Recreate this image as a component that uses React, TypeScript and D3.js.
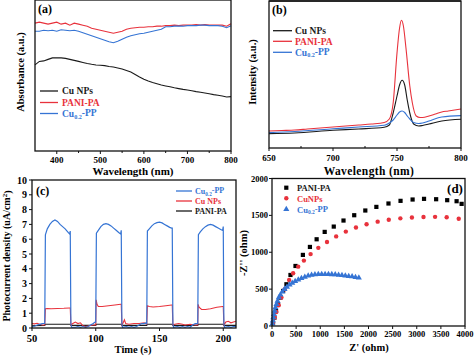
import React from "react";
import * as d3 from "d3";

// ---------- Panel (a) UV-vis absorbance ----------
const wlA = [350,360,370,380,390,400,410,420,430,440,450,460,470,480,490,500,510,520,530,540,550,560,570,580,590,600,610,620,630,640,650,660,670,680,690,700,710,720,730,740,750,760,770,780,790,800];
const absPANI = [1.27,1.28,1.27,1.26,1.27,1.28,1.26,1.27,1.25,1.27,1.26,1.25,1.24,1.22,1.21,1.2,1.19,1.18,1.17,1.18,1.19,1.21,1.22,1.225,1.23,1.23,1.235,1.235,1.24,1.24,1.245,1.245,1.25,1.245,1.25,1.25,1.25,1.255,1.25,1.255,1.25,1.25,1.25,1.25,1.24,1.265];
const absCuPP = [1.19,1.19,1.2,1.195,1.2,1.19,1.205,1.2,1.195,1.2,1.19,1.175,1.16,1.145,1.13,1.115,1.1,1.085,1.075,1.09,1.11,1.13,1.145,1.155,1.165,1.17,1.18,1.19,1.2,1.21,1.235,1.235,1.24,1.24,1.24,1.245,1.245,1.245,1.25,1.25,1.245,1.245,1.245,1.24,1.225,1.245];
const absCuNP = [0.855,0.89,0.895,0.91,0.925,0.927,0.925,0.92,0.91,0.9,0.89,0.88,0.87,0.862,0.855,0.852,0.848,0.84,0.835,0.825,0.815,0.8,0.785,0.76,0.735,0.712,0.695,0.68,0.668,0.655,0.646,0.638,0.628,0.62,0.612,0.606,0.598,0.59,0.583,0.576,0.568,0.56,0.553,0.546,0.537,0.54];
const ticksA = [400,500,600,700,800];

// ---------- Panel (b) PL intensity ----------
const wlPANI = [650,660,670,680,690,700,710,720,730,740,744,747,750,752,753.5,755,757,760,762,765,768,770,775,780,785,790,800];
const plPANI = [17,17.5,18,19,20,21,22,23,24,25.5,29,45,95,120,127.7,122,100,62,45,32,30.5,30.5,32,34,36,37,39];
const wlCu = [650,670,700,720,740,744,747,750,752,754,756,758,760,763,767,770,775,785,800];
const plCuNP = [14.4,15,17.7,19,20.7,23,35,52,63,67.7,63,48,35,24,22,22.5,24,27,28.7];
const plCuPP = [15.4,16.5,19.2,21,22.7,25,28,33,36,37,35.5,32,29,25.5,24.5,25,27,31,32.4];
const ticksB = [650,700,750,800];

// ---------- Panel (c) photocurrent ----------
const pcCuPP: [number, number][] = [[50,0.1],[52,0.12],[54,0.2],[56,0.25],[58,0.3],[59.5,0.32],[60,0.3],[60.5,6.3],[62,6.7],[64,7.0],[66,7.2],[68,7.3],[70,7.2],[72,7.0],[74,6.85],[76,6.7],[78,6.5],[79.5,6.35],[80,6.55],[80.5,0.3],[81,0.05],[84,0.05],[86,0.1],[88,0.05],[90,0.1],[92,0.05],[94,0.1],[96,0.2],[98,0.3],[99.5,0.4],[100,0.4],[100.5,6.4],[102,6.6],[104,6.85],[106,7.0],[108,7.05],[110,7.0],[112,6.9],[114,6.75],[116,6.6],[118,6.45],[119.5,6.35],[120,6.6],[120.5,0.3],[121,0.05],[124,0.1],[126,0.05],[128,0.1],[130,0.05],[132,0.1],[134,0.2],[136,0.3],[138,0.3],[139.5,0.35],[140,0.3],[140.5,6.55],[142,6.7],[144,6.9],[146,7.05],[148,7.12],[150,7.15],[152,7.1],[154,7.0],[156,6.9],[158,6.8],[159.5,6.75],[160,6.75],[160.5,0.3],[161,0.05],[164,0.1],[166,0.05],[168,0.1],[170,0.05],[172,0.1],[174,0.05],[176,0.2],[178,0.3],[179.5,0.3],[180,0.3],[180.5,6.3],[182,6.5],[184,6.7],[186,6.85],[188,6.95],[190,7.0],[192,6.95],[194,6.85],[196,6.75],[198,6.65],[199.5,6.6],[200,6.85],[200.5,0.3],[201,0.05],[204,0.1],[206,0.05],[208,0.1],[210,0.1]];
const pcCuNP: [number, number][] = [[50,0.3],[52,0.28],[54,0.32],[56,0.25],[58,0.2],[60,0.2],[60.5,1.3],[62,1.32],[65,1.3],[70,1.32],[75,1.33],[79.5,1.35],[80,1.35],[80.5,0.2],[82,0.3],[84,0.4],[86,0.3],[88,0.35],[90,0.15],[92,0.1],[95,0.15],[98,0.2],[100,0.2],[100.3,1.9],[101,1.6],[102,1.45],[105,1.45],[110,1.5],[115,1.55],[119.5,1.6],[120,1.6],[120.5,0.2],[121.5,0.35],[122.5,0.55],[123.5,0.3],[126,0.25],[130,0.3],[134,0.3],[138,0.35],[140,0.25],[140.5,1.5],[142,1.45],[145,1.42],[150,1.45],[155,1.5],[159.5,1.55],[160,1.55],[160.5,0.2],[162,0.25],[165,0.3],[168,0.25],[170,0.2],[174,0.25],[178,0.2],[180,0.2],[180.3,1.6],[181,1.4],[183,1.25],[186,1.25],[190,1.3],[195,1.4],[199.5,1.45],[200,1.45],[200.5,0.2],[202,0.4],[204,0.45],[206,0.35],[208,0.4],[210,0.45]];
const pcPANI: [number, number][] = [[50,0.15],[60,0.18],[60.5,0.25],[80,0.25],[80.5,0.18],[100,0.18],[100.5,0.25],[120,0.25],[120.5,0.18],[140,0.18],[140.5,0.25],[160,0.25],[160.5,0.18],[180,0.18],[180.5,0.25],[200,0.25],[200.5,0.18],[210,0.18]];
const ticksCx = [50,100,150,200];
const ticksCy = [0,1,2,3,4,5,6,7,8,9,10];

// ---------- Panel (d) Nyquist ----------
const nyPANI: [number, number][] = [[21,45],[49,113],[83,204],[125,294],[174,385],[230,475],[299,566],[383,692],[487,814],[640,964],[786,1072],[925,1176],[1092,1276],[1280,1348],[1482,1430],[1704,1502],[1934,1566],[2163,1615],[2414,1661],[2664,1697],[2914,1715],[3151,1724],[3402,1719],[3631,1706],[3826,1692],[3930,1656]];
const nyCuNP: [number, number][] = [[20,40],[56,113],[90,190],[139,281],[195,385],[264,498],[355,624],[438,715],[543,805],[661,887],[800,975],[960,1060],[1140,1140],[1330,1215],[1530,1280],[1740,1335],[1960,1380],[2190,1415],[2420,1440],[2660,1460],[2900,1472],[3140,1478],[3380,1480],[3620,1475],[3870,1455]];
const nyCuPP: [number, number][] = [[10,30],[18,70],[28,115],[40,160],[55,205],[72,250],[92,295],[115,340],[142,385],[175,425],[215,465],[260,500],[310,530],[365,558],[420,583],[480,607],[545,628],[610,648],[680,665],[750,680],[820,690],[890,697],[960,701],[1030,703],[1100,703],[1170,702],[1240,700],[1310,697],[1380,693],[1450,688],[1520,682],[1590,676],[1660,670],[1730,662],[1800,655]];
const ticksDx = [0,500,1000,1500,2000,2500,3000,3500,4000];
const ticksDy = [0,500,1000,1500,2000];

const RED = "#e8323c";
const BLUE = "#3574d4";
const BLACK = "#1a1a1a";
const FONT = "'Liberation Serif', 'Times New Roman', serif";

function Frame({ l, r, t, b }: { l: number; r: number; t: number; b: number }) {
  return <rect x={l} y={t} width={r - l} height={b - t} fill="none" stroke="#111" strokeWidth={1.3} />;
}

function Sub({ base, sub, rest }: { base: string; sub: string; rest: string }) {
  return (
    <>
      {base}
      <tspan fontSize="0.65em" dy="0.3em">{sub}</tspan>
      <tspan dy="-0.3em">{rest}</tspan>
    </>
  );
}

export default function App() {
  // Panel a
  const aL = 35, aR = 231, aT = 0, aB = 151;
  const xA = d3.scaleLinear().domain([350, 800]).range([aL, aR]);
  const yA = d3.scaleLinear().domain([0, 1.5]).range([aB, aT]);
  const lineA = (vals: number[]) =>
    d3.line<number>().x((_, i) => xA(wlA[i])).y((v) => yA(v))(vals) || "";

  // Panel b
  const bL = 269, bR = 461, bT = 1, bB = 148;
  const xB = d3.scaleLinear().domain([650, 800]).range([bL, bR]);
  const yB = d3.scaleLinear().domain([0, 147]).range([bB, bT]);
  const lineB = (xs: number[], vals: number[]) =>
    d3.line<number>().x((_, i) => xB(xs[i])).y((v) => yB(v)).curve(d3.curveMonotoneX)(vals) || "";

  // Panel c
  const cL = 32, cR = 236, cT = 180, cB = 328;
  const xC = d3.scaleLinear().domain([50, 210]).range([cL, cR]);
  const yC = d3.scaleLinear().domain([0, 10]).range([cB, cT]);
  const lineC = d3.line<[number, number]>().x((d) => xC(d[0])).y((d) => yC(d[1]));

  // Panel d
  const dL = 272, dR = 465, dT = 178.5, dB = 326;
  const xD = d3.scaleLinear().domain([0, 4000]).range([dL, dR]);
  const yD = d3.scaleLinear().domain([0, 2000]).range([dB, dT]);
  const tri = d3.symbol().type(d3.symbolTriangle).size(16)() || "";

  const bold = { fontFamily: FONT, fontWeight: 700 } as const;

  return (
    <svg width={474} height={356} style={{ position: "absolute", left: 0, top: 0, background: "#fff" }}>
      {/* ---------- (a) ---------- */}
      <g>
        <path d={lineA(absPANI)} fill="none" stroke={RED} strokeWidth={1.1} />
        <path d={lineA(absCuPP)} fill="none" stroke={BLUE} strokeWidth={1.1} />
        <path d={lineA(absCuNP)} fill="none" stroke={BLACK} strokeWidth={1.1} />
        <Frame l={aL} r={aR} t={aT} b={aB} />
        {ticksA.map((t) => (
          <g key={t}>
            <line x1={xA(t)} x2={xA(t)} y1={aB} y2={aB + 3} stroke="#111" />
            <text x={xA(t)} y={163} textAnchor="middle" fontSize={9} {...bold}>{t}</text>
          </g>
        ))}
        {[450, 550, 650, 750].map((t) => (
          <line key={t} x1={xA(t)} x2={xA(t)} y1={aB} y2={aB + 2} stroke="#111" />
        ))}
        <text x={133} y={175} textAnchor="middle" fontSize={11} {...bold}>Wavelength (nm)</text>
        <text transform="translate(24,72) rotate(-90)" textAnchor="middle" fontSize={10.5} {...bold}>Absorbance (a.u.)</text>
        <text x={38} y={13} fontSize={12} {...bold}>(a)</text>
        {[
          { c: BLACK, y: 91, label: <>Cu NPs</> },
          { c: RED, y: 102.5, label: <>PANI-PA</> },
          { c: BLUE, y: 113.5, label: <Sub base="Cu" sub="0.2" rest="-PP" /> },
        ].map((it, i) => (
          <g key={i}>
            <line x1={40} x2={58} y1={it.y} y2={it.y} stroke={it.c} strokeWidth={1.3} />
            <text x={62} y={it.y + 3.3} fontSize={9.5} fill={it.c} {...bold}>{it.label}</text>
          </g>
        ))}
      </g>

      {/* ---------- (b) ---------- */}
      <g>
        <path d={lineB(wlCu, plCuNP)} fill="none" stroke={BLACK} strokeWidth={1.1} />
        <path d={lineB(wlCu, plCuPP)} fill="none" stroke={BLUE} strokeWidth={1.1} />
        <path d={lineB(wlPANI, plPANI)} fill="none" stroke={RED} strokeWidth={1.1} />
        <rect x={bL} y={0} width={bR - bL} height={2} fill="#555" />
        <Frame l={bL} r={bR} t={bT} b={bB} />
        {ticksB.map((t) => (
          <g key={t}>
            <line x1={xB(t)} x2={xB(t)} y1={bB} y2={bB + 3} stroke="#111" />
            <text x={xB(t)} y={160.5} textAnchor="middle" fontSize={9} {...bold}>{t}</text>
          </g>
        ))}
        {[675, 725, 775].map((t) => (
          <line key={t} x1={xB(t)} x2={xB(t)} y1={bB} y2={bB - 2} stroke="#111" />
        ))}
        <text x={369} y={175} textAnchor="middle" fontSize={11.5} letterSpacing={0.4} {...bold}>Wavelength (nm)</text>
        <text transform="translate(255.5,72) rotate(-90)" textAnchor="middle" fontSize={10.5} {...bold}>Intensity (a.u.)</text>
        <text x={272} y={14} fontSize={12} {...bold}>(b)</text>
        {[
          { c: BLACK, y: 30.7, label: <>Cu NPs</> },
          { c: RED, y: 41.3, label: <>PANI-PA</> },
          { c: BLUE, y: 52.3, label: <Sub base="Cu" sub="0.2" rest="-PP" /> },
        ].map((it, i) => (
          <g key={i}>
            <line x1={273} x2={292} y1={it.y} y2={it.y} stroke={it.c} strokeWidth={1.3} />
            <text x={295} y={it.y + 3.3} fontSize={9.5} fill={it.c} {...bold}>{it.label}</text>
          </g>
        ))}
      </g>

      {/* ---------- (c) ---------- */}
      <g>
        <path d={lineC(pcPANI) || ""} fill="none" stroke={BLACK} strokeWidth={1.1} />
        <path d={lineC(pcCuNP) || ""} fill="none" stroke={RED} strokeWidth={1.1} />
        <path d={lineC(pcCuPP) || ""} fill="none" stroke={BLUE} strokeWidth={1.2} />
        <Frame l={cL} r={cR} t={cT} b={cB} />
        {ticksCx.map((t) => (
          <g key={t}>
            <line x1={xC(t)} x2={xC(t)} y1={cB} y2={cB + 3} stroke="#111" />
            <text x={xC(t)} y={342} textAnchor="middle" fontSize={10.5} {...bold}>{t}</text>
          </g>
        ))}
        {ticksCy.map((t) => (
          <g key={t}>
            <line x1={cL} x2={cL - 3} y1={yC(t)} y2={yC(t)} stroke="#111" />
            <text x={27} y={yC(t) + 3.5} textAnchor="end" fontSize={10} {...bold}>{t}</text>
          </g>
        ))}
        <text x={133} y={353} textAnchor="middle" fontSize={10.5} {...bold}>Time (s)</text>
        <text transform="translate(9.5,256) rotate(-90)" textAnchor="middle" fontSize={10} {...bold}>
          Photocurrent density (uA/cm<tspan fontSize="0.7em" dy="-0.4em">2</tspan><tspan dy="0.4em">)</tspan>
        </text>
        <text x={36} y={195} fontSize={12} {...bold}>(c)</text>
        {[
          { c: BLUE, y: 191, label: <Sub base="Cu" sub="0.2" rest="-PP" /> },
          { c: RED, y: 201, label: <>Cu NPs</> },
          { c: BLACK, y: 211, label: <>PANI-PA</> },
        ].map((it, i) => (
          <g key={i}>
            <line x1={176} x2={192} y1={it.y} y2={it.y} stroke={it.c} strokeWidth={1.3} />
            <text x={195} y={it.y + 3} fontSize={8} fill={it.c} {...bold}>{it.label}</text>
          </g>
        ))}
      </g>

      {/* ---------- (d) ---------- */}
      <g>
        {nyPANI.map((d, i) => (
          <rect key={"p" + i} x={xD(d[0]) - 2.1} y={yD(d[1]) - 2.1} width={4.2} height={4.2} fill="#000" />
        ))}
        {nyCuNP.map((d, i) => (
          <circle key={"n" + i} cx={xD(d[0])} cy={yD(d[1])} r={2.2} fill={RED} />
        ))}
        {nyCuPP.map((d, i) => (
          <path key={"c" + i} d={tri} transform={`translate(${xD(d[0])},${yD(d[1])})`} fill={BLUE} />
        ))}
        <Frame l={dL} r={dR} t={dT} b={dB} />
        {ticksDx.map((t) => (
          <g key={t}>
            <line x1={xD(t)} x2={xD(t)} y1={dB} y2={dB + 3} stroke="#111" />
            <text x={xD(t)} y={337} textAnchor="middle" fontSize={8.5} {...bold}>{t}</text>
          </g>
        ))}
        {ticksDy.map((t) => (
          <g key={t}>
            <line x1={dL} x2={dL - 3} y1={yD(t)} y2={yD(t)} stroke="#111" />
            <text x={268} y={yD(t) + 3} textAnchor="end" fontSize={8.5} {...bold}>{t}</text>
          </g>
        ))}
        <text x={369} y={351} textAnchor="middle" fontSize={10.5} {...bold}>Z' (ohm)</text>
        <text transform="translate(247,253) rotate(-90)" textAnchor="middle" fontSize={10.5} {...bold}>-Z'' (ohm)</text>
        <text x={455} y={193} textAnchor="middle" fontSize={13} {...bold}>(d)</text>
        <rect x={284.2} y={185.6} width={4.2} height={4.2} fill="#000" />
        <text x={297} y={191} fontSize={8.5} fill={BLACK} {...bold}>PANI-PA</text>
        <circle cx={286.3} cy={198.3} r={2.2} fill={RED} />
        <text x={297} y={201.5} fontSize={8.5} fill={RED} {...bold}>CuNPs</text>
        <path d={tri} transform="translate(286.3,209.3)" fill={BLUE} />
        <text x={297} y={212.5} fontSize={8.5} fill={BLUE} {...bold}><Sub base="Cu" sub="0.2" rest="-PP" /></text>
      </g>
    </svg>
  );
}
